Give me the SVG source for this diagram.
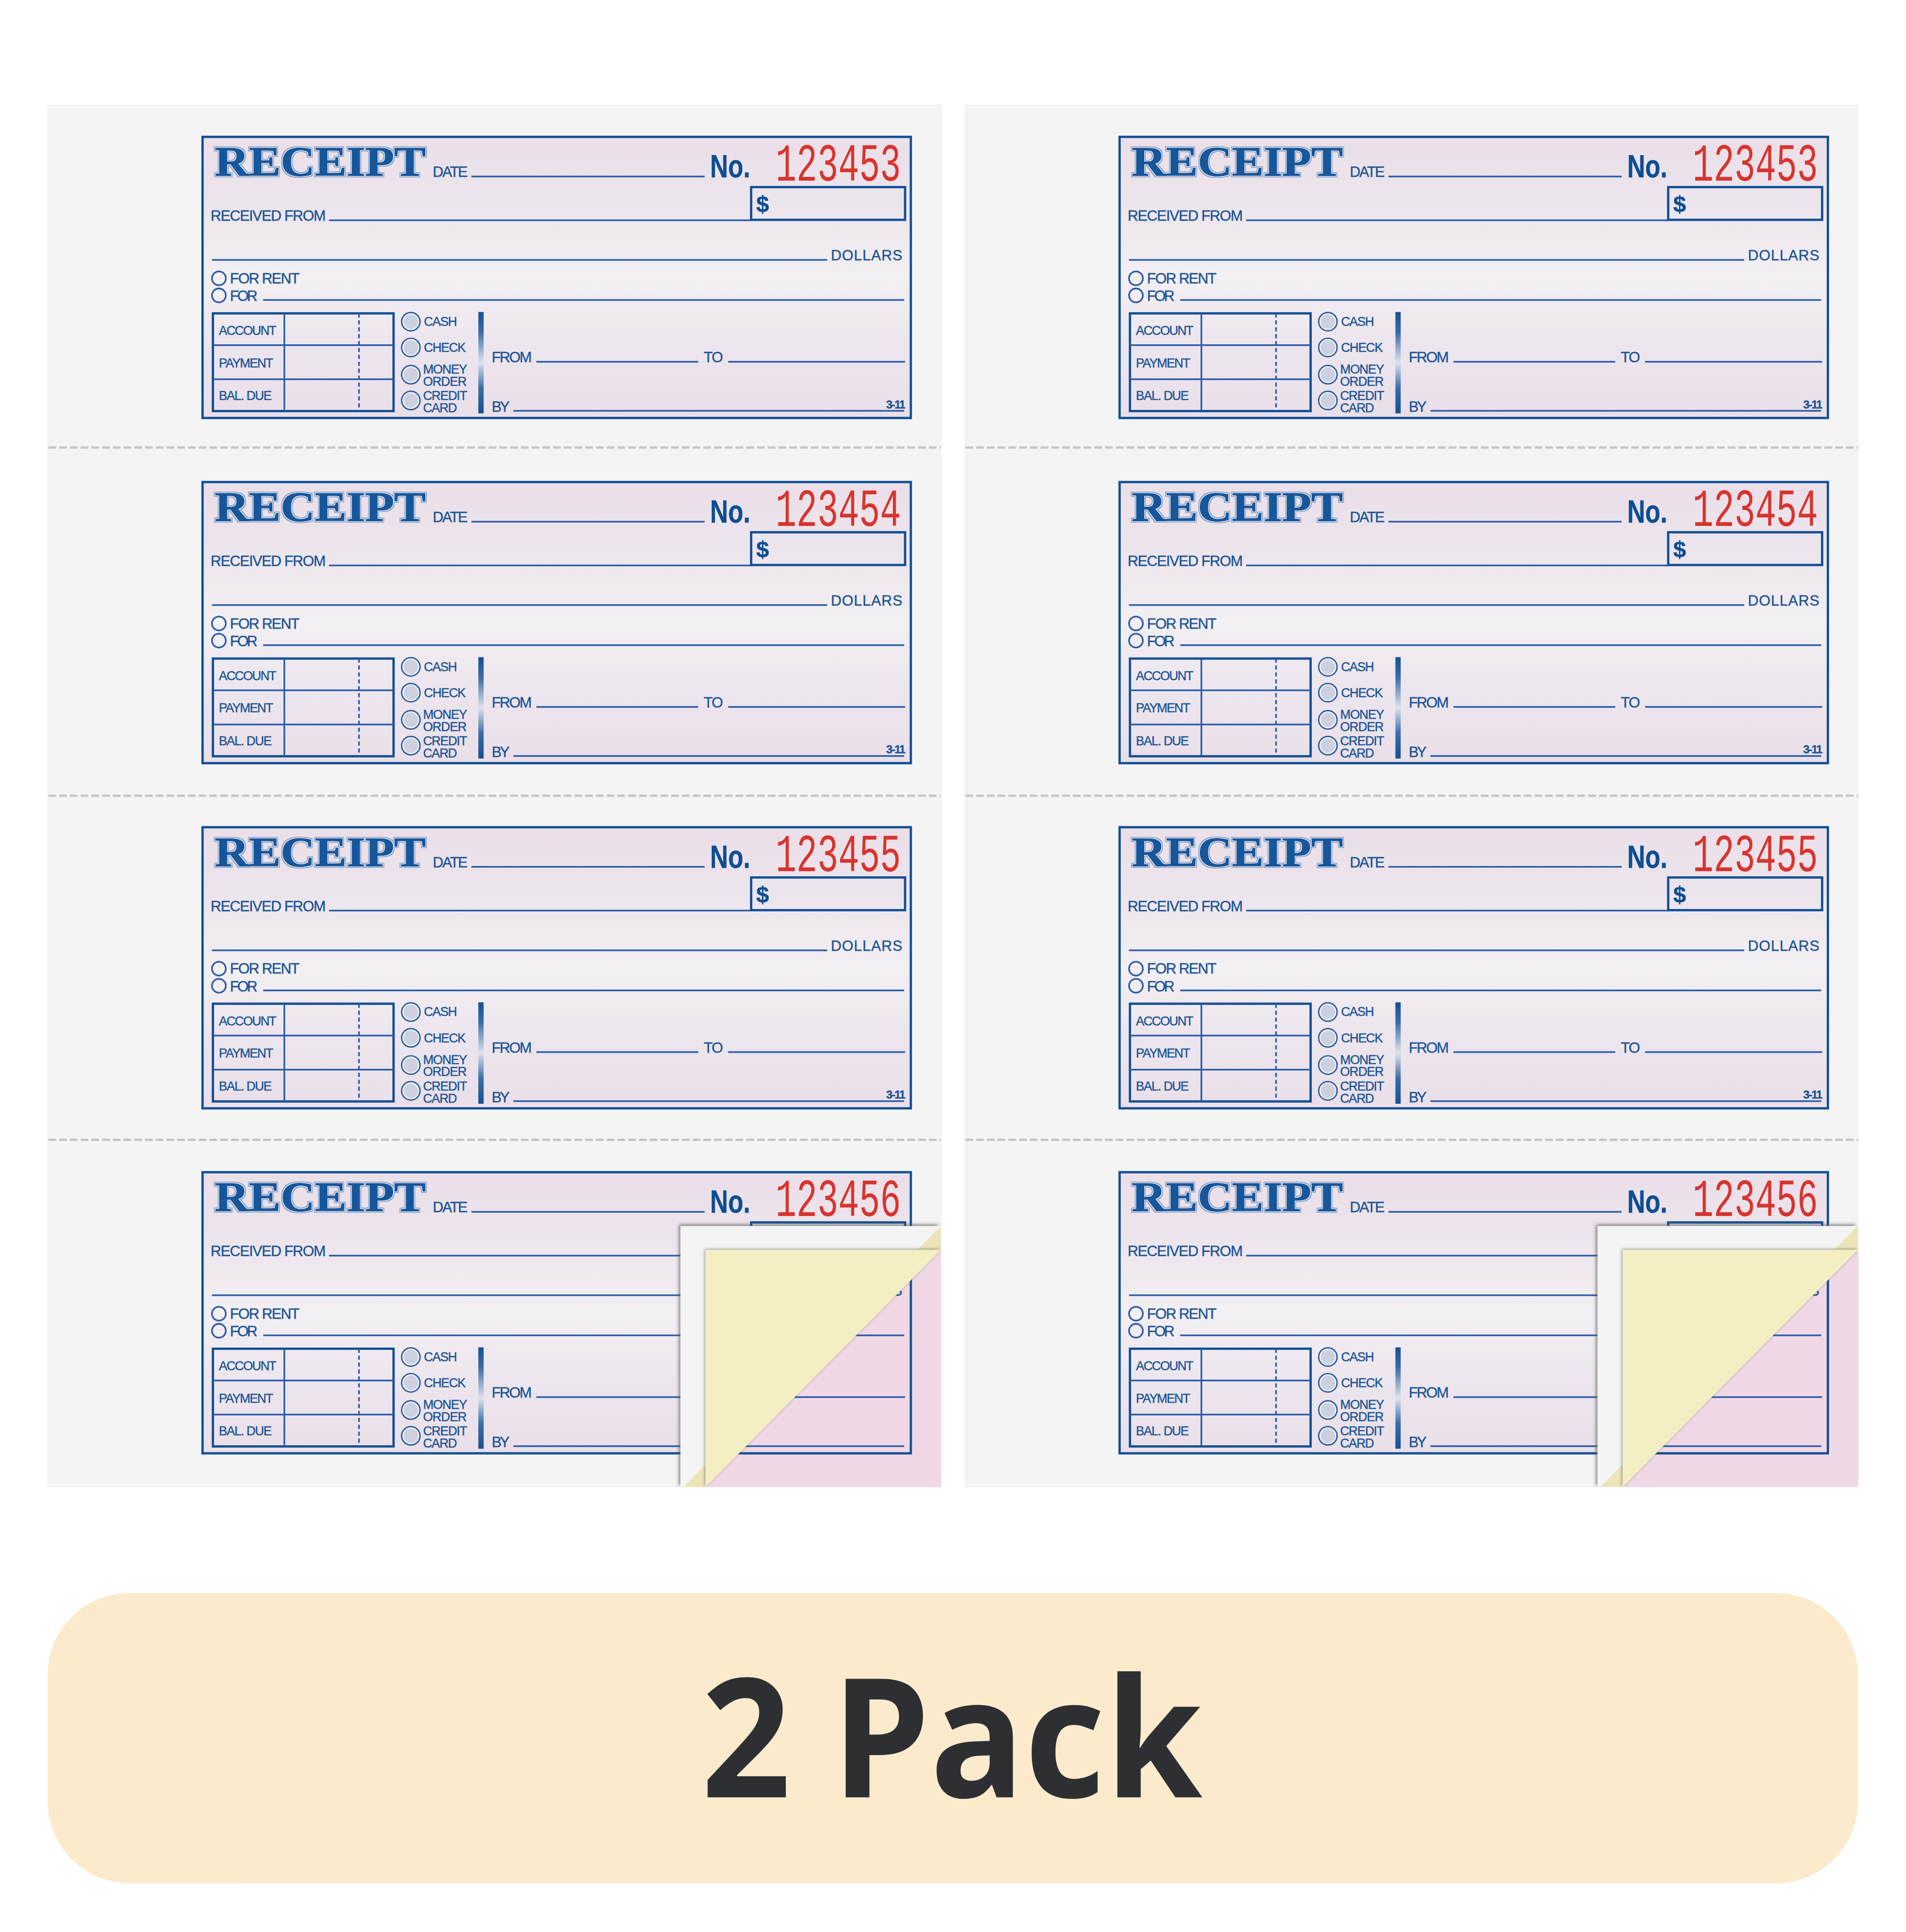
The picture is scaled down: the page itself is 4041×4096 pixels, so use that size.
<svg xmlns="http://www.w3.org/2000/svg" width="4041" height="4096" viewBox="0 0 4041 4096">
<style>
text{font-family:"Liberation Sans",Arial,sans-serif;fill:#1c5596;stroke:#1c5596;stroke-width:.5}
.a{font-size:32px}.b{font-size:27.5px}
.h{font-family:"Liberation Serif","Times New Roman",serif;font-weight:700;font-size:90px;fill:#14569b;stroke:#14569b;stroke-width:1.5;filter:url(#outline)}
.n{font-weight:700;font-size:70px;fill:#0d4e93;stroke:#0d4e93}
.r{font-family:"Liberation Mono",monospace;font-size:115px;fill:#d8342e;stroke:none}
.d{font-weight:700;font-size:50px;fill:#0d4e93;stroke:#0d4e93}
.v{font-weight:700;font-size:25px}
.p{font-family:"Open Sans",sans-serif;font-weight:700;font-size:360px;fill:#2e2f33;stroke:none}
.l{stroke:#2a5ca8;stroke-width:3.6;fill:none}
.o{stroke:#114f95;stroke-width:5;fill:none}
.c{fill:#eceef3;stroke:#2a5ca0;stroke-width:3}
.i{fill:#cdd0de}
.perf{stroke:#c6c6c6;stroke-width:5;stroke-dasharray:16.7 6.6;fill:none}
</style>
<defs>
<filter id="outline" x="-3%" y="-15%" width="106%" height="130%">
<feMorphology in="SourceAlpha" operator="dilate" radius="1.4" result="m1"/>
<feMorphology in="SourceAlpha" operator="dilate" radius="3" result="m2"/>
<feFlood flood-color="#8da8cc"/><feComposite in2="m2" operator="in" result="c2"/>
<feFlood flood-color="#eef0f6"/><feComposite in2="m1" operator="in" result="c1"/>
<feMerge><feMergeNode in="c2"/><feMergeNode in="c1"/><feMergeNode in="SourceGraphic"/></feMerge>
</filter>
<filter id="sh" x="-5%" y="-5%" width="110%" height="110%"><feDropShadow dx="-3" dy="-3" stdDeviation="4" flood-color="#555" flood-opacity=".75"/></filter>
<filter id="sh2" x="-5%" y="-5%" width="110%" height="110%"><feDropShadow dx="-1" dy="-1" stdDeviation="3" flood-color="#555" flood-opacity=".7"/></filter>
<linearGradient id="pg" x1="0" y1="0" x2="0" y2="1">
<stop offset="0" stop-color="#ebdfe8"/><stop offset=".22" stop-color="#ece4ec"/><stop offset=".5" stop-color="#f3eff3"/><stop offset=".72" stop-color="#ede6ee"/><stop offset="1" stop-color="#eadfe8"/>
</linearGradient>
<linearGradient id="bar" x1="0" y1="0" x2="0" y2="1">
<stop offset="0" stop-color="#155095"/><stop offset=".2" stop-color="#3a6ca8"/><stop offset=".5" stop-color="#dfe4ee"/><stop offset=".75" stop-color="#3a6ca8"/><stop offset="1" stop-color="#155095"/>
</linearGradient>
<clipPath id="pc"><rect x="103" y="228" width="1939" height="2998.6"/></clipPath>
<rect id="fill" x="439.5" y="297" width="1537" height="610" fill="url(#pg)"/>
<polygon id="pink" points="2042,465.4 2042,980 1531,980" fill="#f0d8e6"/>
<g id="art">
<rect x="439.5" y="297" width="1537" height="610" class="o"/>
<path class="l" d="M1023 383H1529M714 478H1629M460 564H1795M571 651H1962M1164 785H1515M1580 785H1964M1114 891.5H1962"/>
<rect x="1630" y="406" width="334" height="71" fill="#f7f7f8" class="o"/>
<circle class="l" cx="475" cy="604" r="15" stroke-width="3"/>
<circle class="l" cx="475" cy="641" r="15" stroke-width="3"/>
<rect x="462" y="680" width="392" height="212" fill="#f6f6f8" class="o"/>
<path class="l" d="M462 749H854M462 823H854M617 680V892"/>
<path class="l" d="M779 680V892" stroke-dasharray="9 6"/>
<circle class="c" cx="891.5" cy="698" r="20"/><circle class="i" cx="891.5" cy="698" r="15.5"/>
<circle class="c" cx="891.5" cy="754" r="20"/><circle class="i" cx="891.5" cy="754" r="15.5"/>
<circle class="c" cx="891.5" cy="813" r="20"/><circle class="i" cx="891.5" cy="813" r="15.5"/>
<circle class="c" cx="891.5" cy="869" r="20"/><circle class="i" cx="891.5" cy="869" r="15.5"/>
<rect x="1038" y="677" width="11.5" height="220" fill="url(#bar)"/>
</g>
<g id="foldart">
<polygon points="1476.5,2660.4 2041.6,2660.4 1483,3226.6 1476.5,3226.6" fill="#f4f4f4" filter="url(#sh)"/>
<polygon points="2041.6,2660.4 2041.6,2712 1531,3226.6 1483,3226.6" fill="#ece5ba"/>
<polygon points="1531,2712 2041.6,2712 1531,3226.6" fill="#f4efc3" filter="url(#sh2)"/>
</g>
</defs>
<rect width="4041" height="4096" fill="#fff"/>
<g transform="scale(0.97703)">
<g id="panels" fill="#f4f4f4" stroke="#ececec" stroke-width="1">
<rect x="103.5" y="228" width="1939" height="2998.6"/>
<rect x="2093.5" y="228" width="1938.5" height="2998.6"/>
</g>
<g id="perforations" class="perf">
<path d="M105 971H2042M105 1726.7H2042M105 2473.3H2042"/>
<path d="M2095 971H4032M2095 1726.7H4032M2095 2473.3H4032"/>
</g>

<g id="receipt-c1-r1">
<use href="#fill"/><use href="#art"/>
<text class="h" x="466" y="381" textLength="458" lengthAdjust="spacingAndGlyphs">RECEIPT</text>
<text class="a" x="939" y="384" textLength="76">DATE</text>
<text class="n" x="1541" y="385" textLength="87" lengthAdjust="spacingAndGlyphs">No.</text>
<text class="r" x="1683" y="392" textLength="272" lengthAdjust="spacingAndGlyphs">123453</text>
<text class="d" x="1641" y="460">$</text>
<text class="a" x="457" y="479" textLength="250">RECEIVED FROM</text>
<text class="a" x="1803" y="565" textLength="155">DOLLARS</text>
<text class="a" x="499" y="615" textLength="151">FOR RENT</text>
<text class="a" x="499" y="653" textLength="60">FOR</text>
<text class="b" x="475" y="727" textLength="125">ACCOUNT</text>
<text class="b" x="475" y="797" textLength="118">PAYMENT</text>
<text class="b" x="475" y="868" textLength="115">BAL. DUE</text>
<text class="b" x="920" y="707" textLength="72">CASH</text>
<text class="b" x="920" y="764" textLength="91">CHECK</text>
<text class="b" x="918" y="811" textLength="96">MONEY</text>
<text class="b" x="918" y="837" textLength="95">ORDER</text>
<text class="b" x="918" y="868" textLength="96">CREDIT</text>
<text class="b" x="918" y="895" textLength="74">CARD</text>
<text class="a" x="1067" y="786" textLength="87">FROM</text>
<text class="a" x="1527" y="786" textLength="42">TO</text>
<text class="a" x="1067" y="894" textLength="39">BY</text>
<text class="v" x="1923" y="886" textLength="42">3-11</text>
</g>
<g id="receipt-c1-r2" transform="translate(0,749)">
<use href="#fill"/><use href="#art"/>
<text class="h" x="466" y="381" textLength="458" lengthAdjust="spacingAndGlyphs">RECEIPT</text>
<text class="a" x="939" y="384" textLength="76">DATE</text>
<text class="n" x="1541" y="385" textLength="87" lengthAdjust="spacingAndGlyphs">No.</text>
<text class="r" x="1683" y="392" textLength="272" lengthAdjust="spacingAndGlyphs">123454</text>
<text class="d" x="1641" y="460">$</text>
<text class="a" x="457" y="479" textLength="250">RECEIVED FROM</text>
<text class="a" x="1803" y="565" textLength="155">DOLLARS</text>
<text class="a" x="499" y="615" textLength="151">FOR RENT</text>
<text class="a" x="499" y="653" textLength="60">FOR</text>
<text class="b" x="475" y="727" textLength="125">ACCOUNT</text>
<text class="b" x="475" y="797" textLength="118">PAYMENT</text>
<text class="b" x="475" y="868" textLength="115">BAL. DUE</text>
<text class="b" x="920" y="707" textLength="72">CASH</text>
<text class="b" x="920" y="764" textLength="91">CHECK</text>
<text class="b" x="918" y="811" textLength="96">MONEY</text>
<text class="b" x="918" y="837" textLength="95">ORDER</text>
<text class="b" x="918" y="868" textLength="96">CREDIT</text>
<text class="b" x="918" y="895" textLength="74">CARD</text>
<text class="a" x="1067" y="786" textLength="87">FROM</text>
<text class="a" x="1527" y="786" textLength="42">TO</text>
<text class="a" x="1067" y="894" textLength="39">BY</text>
<text class="v" x="1923" y="886" textLength="42">3-11</text>
</g>
<g id="receipt-c1-r3" transform="translate(0,1498)">
<use href="#fill"/><use href="#art"/>
<text class="h" x="466" y="381" textLength="458" lengthAdjust="spacingAndGlyphs">RECEIPT</text>
<text class="a" x="939" y="384" textLength="76">DATE</text>
<text class="n" x="1541" y="385" textLength="87" lengthAdjust="spacingAndGlyphs">No.</text>
<text class="r" x="1683" y="392" textLength="272" lengthAdjust="spacingAndGlyphs">123455</text>
<text class="d" x="1641" y="460">$</text>
<text class="a" x="457" y="479" textLength="250">RECEIVED FROM</text>
<text class="a" x="1803" y="565" textLength="155">DOLLARS</text>
<text class="a" x="499" y="615" textLength="151">FOR RENT</text>
<text class="a" x="499" y="653" textLength="60">FOR</text>
<text class="b" x="475" y="727" textLength="125">ACCOUNT</text>
<text class="b" x="475" y="797" textLength="118">PAYMENT</text>
<text class="b" x="475" y="868" textLength="115">BAL. DUE</text>
<text class="b" x="920" y="707" textLength="72">CASH</text>
<text class="b" x="920" y="764" textLength="91">CHECK</text>
<text class="b" x="918" y="811" textLength="96">MONEY</text>
<text class="b" x="918" y="837" textLength="95">ORDER</text>
<text class="b" x="918" y="868" textLength="96">CREDIT</text>
<text class="b" x="918" y="895" textLength="74">CARD</text>
<text class="a" x="1067" y="786" textLength="87">FROM</text>
<text class="a" x="1527" y="786" textLength="42">TO</text>
<text class="a" x="1067" y="894" textLength="39">BY</text>
<text class="v" x="1923" y="886" textLength="42">3-11</text>
</g>
<g id="receipt-c1-r4" transform="translate(0,2246.6)">
<use href="#fill"/><use href="#pink"/><use href="#art"/>
<text class="h" x="466" y="381" textLength="458" lengthAdjust="spacingAndGlyphs">RECEIPT</text>
<text class="a" x="939" y="384" textLength="76">DATE</text>
<text class="n" x="1541" y="385" textLength="87" lengthAdjust="spacingAndGlyphs">No.</text>
<text class="r" x="1683" y="392" textLength="272" lengthAdjust="spacingAndGlyphs">123456</text>
<text class="a" x="457" y="479" textLength="250">RECEIVED FROM</text>
<text class="a" x="1803" y="565" textLength="155">DOLLARS</text>
<text class="a" x="499" y="615" textLength="151">FOR RENT</text>
<text class="a" x="499" y="653" textLength="60">FOR</text>
<text class="b" x="475" y="727" textLength="125">ACCOUNT</text>
<text class="b" x="475" y="797" textLength="118">PAYMENT</text>
<text class="b" x="475" y="868" textLength="115">BAL. DUE</text>
<text class="b" x="920" y="707" textLength="72">CASH</text>
<text class="b" x="920" y="764" textLength="91">CHECK</text>
<text class="b" x="918" y="811" textLength="96">MONEY</text>
<text class="b" x="918" y="837" textLength="95">ORDER</text>
<text class="b" x="918" y="868" textLength="96">CREDIT</text>
<text class="b" x="918" y="895" textLength="74">CARD</text>
<text class="a" x="1067" y="786" textLength="87">FROM</text>
<text class="a" x="1067" y="894" textLength="39">BY</text>
</g>
<g id="fold-c1" clip-path="url(#pc)"><use href="#foldart"/></g>

<g id="receipt-c2-r1" transform="translate(1990,0)">
<use href="#fill"/><use href="#art"/>
<text class="h" x="466" y="381" textLength="458" lengthAdjust="spacingAndGlyphs">RECEIPT</text>
<text class="a" x="939" y="384" textLength="76">DATE</text>
<text class="n" x="1541" y="385" textLength="87" lengthAdjust="spacingAndGlyphs">No.</text>
<text class="r" x="1683" y="392" textLength="272" lengthAdjust="spacingAndGlyphs">123453</text>
<text class="d" x="1641" y="460">$</text>
<text class="a" x="457" y="479" textLength="250">RECEIVED FROM</text>
<text class="a" x="1803" y="565" textLength="155">DOLLARS</text>
<text class="a" x="499" y="615" textLength="151">FOR RENT</text>
<text class="a" x="499" y="653" textLength="60">FOR</text>
<text class="b" x="475" y="727" textLength="125">ACCOUNT</text>
<text class="b" x="475" y="797" textLength="118">PAYMENT</text>
<text class="b" x="475" y="868" textLength="115">BAL. DUE</text>
<text class="b" x="920" y="707" textLength="72">CASH</text>
<text class="b" x="920" y="764" textLength="91">CHECK</text>
<text class="b" x="918" y="811" textLength="96">MONEY</text>
<text class="b" x="918" y="837" textLength="95">ORDER</text>
<text class="b" x="918" y="868" textLength="96">CREDIT</text>
<text class="b" x="918" y="895" textLength="74">CARD</text>
<text class="a" x="1067" y="786" textLength="87">FROM</text>
<text class="a" x="1527" y="786" textLength="42">TO</text>
<text class="a" x="1067" y="894" textLength="39">BY</text>
<text class="v" x="1923" y="886" textLength="42">3-11</text>
</g>
<g id="receipt-c2-r2" transform="translate(1990,749)">
<use href="#fill"/><use href="#art"/>
<text class="h" x="466" y="381" textLength="458" lengthAdjust="spacingAndGlyphs">RECEIPT</text>
<text class="a" x="939" y="384" textLength="76">DATE</text>
<text class="n" x="1541" y="385" textLength="87" lengthAdjust="spacingAndGlyphs">No.</text>
<text class="r" x="1683" y="392" textLength="272" lengthAdjust="spacingAndGlyphs">123454</text>
<text class="d" x="1641" y="460">$</text>
<text class="a" x="457" y="479" textLength="250">RECEIVED FROM</text>
<text class="a" x="1803" y="565" textLength="155">DOLLARS</text>
<text class="a" x="499" y="615" textLength="151">FOR RENT</text>
<text class="a" x="499" y="653" textLength="60">FOR</text>
<text class="b" x="475" y="727" textLength="125">ACCOUNT</text>
<text class="b" x="475" y="797" textLength="118">PAYMENT</text>
<text class="b" x="475" y="868" textLength="115">BAL. DUE</text>
<text class="b" x="920" y="707" textLength="72">CASH</text>
<text class="b" x="920" y="764" textLength="91">CHECK</text>
<text class="b" x="918" y="811" textLength="96">MONEY</text>
<text class="b" x="918" y="837" textLength="95">ORDER</text>
<text class="b" x="918" y="868" textLength="96">CREDIT</text>
<text class="b" x="918" y="895" textLength="74">CARD</text>
<text class="a" x="1067" y="786" textLength="87">FROM</text>
<text class="a" x="1527" y="786" textLength="42">TO</text>
<text class="a" x="1067" y="894" textLength="39">BY</text>
<text class="v" x="1923" y="886" textLength="42">3-11</text>
</g>
<g id="receipt-c2-r3" transform="translate(1990,1498)">
<use href="#fill"/><use href="#art"/>
<text class="h" x="466" y="381" textLength="458" lengthAdjust="spacingAndGlyphs">RECEIPT</text>
<text class="a" x="939" y="384" textLength="76">DATE</text>
<text class="n" x="1541" y="385" textLength="87" lengthAdjust="spacingAndGlyphs">No.</text>
<text class="r" x="1683" y="392" textLength="272" lengthAdjust="spacingAndGlyphs">123455</text>
<text class="d" x="1641" y="460">$</text>
<text class="a" x="457" y="479" textLength="250">RECEIVED FROM</text>
<text class="a" x="1803" y="565" textLength="155">DOLLARS</text>
<text class="a" x="499" y="615" textLength="151">FOR RENT</text>
<text class="a" x="499" y="653" textLength="60">FOR</text>
<text class="b" x="475" y="727" textLength="125">ACCOUNT</text>
<text class="b" x="475" y="797" textLength="118">PAYMENT</text>
<text class="b" x="475" y="868" textLength="115">BAL. DUE</text>
<text class="b" x="920" y="707" textLength="72">CASH</text>
<text class="b" x="920" y="764" textLength="91">CHECK</text>
<text class="b" x="918" y="811" textLength="96">MONEY</text>
<text class="b" x="918" y="837" textLength="95">ORDER</text>
<text class="b" x="918" y="868" textLength="96">CREDIT</text>
<text class="b" x="918" y="895" textLength="74">CARD</text>
<text class="a" x="1067" y="786" textLength="87">FROM</text>
<text class="a" x="1527" y="786" textLength="42">TO</text>
<text class="a" x="1067" y="894" textLength="39">BY</text>
<text class="v" x="1923" y="886" textLength="42">3-11</text>
</g>
<g id="receipt-c2-r4" transform="translate(1990,2246.6)">
<use href="#fill"/><use href="#pink"/><use href="#art"/>
<text class="h" x="466" y="381" textLength="458" lengthAdjust="spacingAndGlyphs">RECEIPT</text>
<text class="a" x="939" y="384" textLength="76">DATE</text>
<text class="n" x="1541" y="385" textLength="87" lengthAdjust="spacingAndGlyphs">No.</text>
<text class="r" x="1683" y="392" textLength="272" lengthAdjust="spacingAndGlyphs">123456</text>
<text class="a" x="457" y="479" textLength="250">RECEIVED FROM</text>
<text class="a" x="1803" y="565" textLength="155">DOLLARS</text>
<text class="a" x="499" y="615" textLength="151">FOR RENT</text>
<text class="a" x="499" y="653" textLength="60">FOR</text>
<text class="b" x="475" y="727" textLength="125">ACCOUNT</text>
<text class="b" x="475" y="797" textLength="118">PAYMENT</text>
<text class="b" x="475" y="868" textLength="115">BAL. DUE</text>
<text class="b" x="920" y="707" textLength="72">CASH</text>
<text class="b" x="920" y="764" textLength="91">CHECK</text>
<text class="b" x="918" y="811" textLength="96">MONEY</text>
<text class="b" x="918" y="837" textLength="95">ORDER</text>
<text class="b" x="918" y="868" textLength="96">CREDIT</text>
<text class="b" x="918" y="895" textLength="74">CARD</text>
<text class="a" x="1067" y="786" textLength="87">FROM</text>
<text class="a" x="1067" y="894" textLength="39">BY</text>
</g>
<g id="fold-c2" transform="translate(1990,0)" clip-path="url(#pc)"><use href="#foldart"/></g>

<g id="badge">
<rect x="103.3" y="3456.7" width="3928.7" height="630" rx="178" ry="178" fill="#fbebcc"/>
<text class="p" x="1522" y="3900" textLength="1087" lengthAdjust="spacingAndGlyphs">2 Pack</text>
</g>
</g>
</svg>
